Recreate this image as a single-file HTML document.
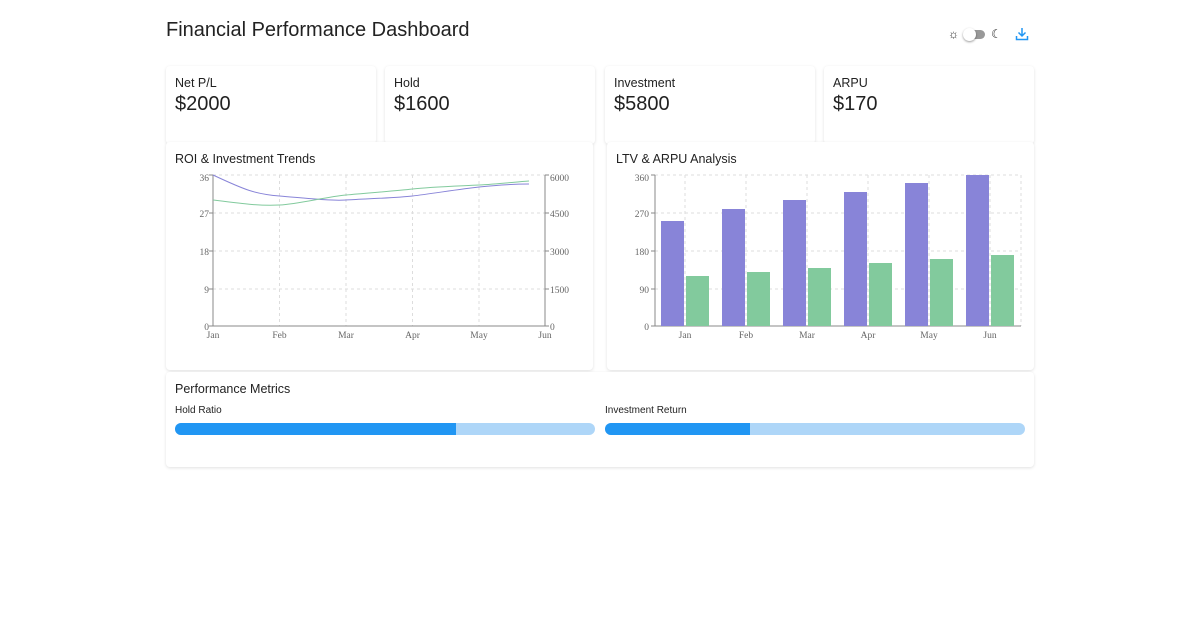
<!DOCTYPE html>
<html><head><style>
body{margin:0;width:1200px;height:630px;background:#fff;font-family:"Liberation Sans",sans-serif;position:relative;overflow:hidden;color:#222}
.card{position:absolute;background:#fff;border-radius:4px;box-shadow:0 1px 3px rgba(0,0,0,0.12)}
.lbl{position:absolute;font-size:12.5px;color:#222}
.val{position:absolute;font-size:20px;color:#222}
svg text{font-family:"Liberation Serif",serif;font-size:9.5px;fill:#666}
</style></head><body>
<div style="position:absolute;left:166px;top:19px;font-size:20px">Financial Performance Dashboard</div>
<div style="position:absolute;left:948px;top:27px;font-size:12px">☼</div>
<div style="position:absolute;left:965px;top:30px;width:20px;height:9px;border-radius:5px;background:#999"></div>
<div style="position:absolute;left:963px;top:28px;width:13px;height:13px;border-radius:50%;background:#fff;box-shadow:0 1px 2px rgba(0,0,0,.4)"></div>
<div style="position:absolute;left:991px;top:27px;font-size:12px">☾</div>
<svg style="position:absolute;left:1015px;top:27px" width="14" height="14"><path d="M7 1v8M3.5 5.5L7 9l3.5-3.5M1.5 9v3.5h11V9" stroke="#2196f3" stroke-width="1.5" fill="none"/></svg>

<div class="card" style="left:166px;top:66px;width:210px;height:78px"><div class="lbl" style="left:9px;top:10px">Net P/L</div><div class="val" style="left:9px;top:27px">$2000</div></div>
<div class="card" style="left:385px;top:66px;width:210px;height:78px"><div class="lbl" style="left:9px;top:10px">Hold</div><div class="val" style="left:9px;top:27px">$1600</div></div>
<div class="card" style="left:605px;top:66px;width:210px;height:78px"><div class="lbl" style="left:9px;top:10px">Investment</div><div class="val" style="left:9px;top:27px">$5800</div></div>
<div class="card" style="left:824px;top:66px;width:210px;height:78px"><div class="lbl" style="left:9px;top:10px">ARPU</div><div class="val" style="left:9px;top:27px">$170</div></div>

<div class="card" style="left:166px;top:142px;width:427px;height:228px"><div class="lbl" style="left:9px;top:10px">ROI &amp; Investment Trends</div></div>
<div class="card" style="left:607px;top:142px;width:427px;height:228px"><div class="lbl" style="left:9px;top:10px">LTV &amp; ARPU Analysis</div></div>

<svg style="position:absolute;left:0;top:0" width="1200" height="630">
<g stroke="#ddd" stroke-dasharray="3,3" stroke-width="1">
<line x1="213" x2="545" y1="175" y2="175"/><line x1="213" x2="545" y1="213" y2="213"/><line x1="213" x2="545" y1="251" y2="251"/><line x1="213" x2="545" y1="289" y2="289"/>
<line x1="279.5" x2="279.5" y1="175" y2="326"/><line x1="346" x2="346" y1="175" y2="326"/><line x1="412.5" x2="412.5" y1="175" y2="326"/><line x1="479" x2="479" y1="175" y2="326"/>
<line x1="655" x2="1021" y1="175" y2="175"/><line x1="655" x2="1021" y1="213" y2="213"/><line x1="655" x2="1021" y1="251" y2="251"/><line x1="655" x2="1021" y1="289" y2="289"/>
<line x1="685" x2="685" y1="175" y2="326"/><line x1="746" x2="746" y1="175" y2="326"/><line x1="807" x2="807" y1="175" y2="326"/><line x1="868" x2="868" y1="175" y2="326"/><line x1="929" x2="929" y1="175" y2="326"/><line x1="990" x2="990" y1="175" y2="326"/><line x1="1021" x2="1021" y1="175" y2="326"/>
</g>
<g stroke="#888" fill="none">
<path d="M213 175V326H545V175"/>
<path d="M209 175h4M209 213h4M209 251h4M209 289h4M209 326h4M545 175h4M545 213h4M545 251h4M545 289h4M545 326h4"/>
<path d="M655 175V326H1021M651 175h4M651 213h4M651 251h4M651 289h4M651 326h4"/>
</g>
<g text-anchor="end"><text x="209" y="181">36</text><text x="209" y="217">27</text><text x="209" y="255">18</text><text x="209" y="293">9</text><text x="209" y="330">0</text>
<text x="649" y="181">360</text><text x="649" y="217">270</text><text x="649" y="255">180</text><text x="649" y="293">90</text><text x="649" y="330">0</text></g>
<g><text x="550" y="181">6000</text><text x="550" y="217">4500</text><text x="550" y="255">3000</text><text x="550" y="293">1500</text><text x="550" y="330">0</text></g>
<g text-anchor="middle"><text x="213" y="338">Jan</text><text x="279.5" y="338">Feb</text><text x="346" y="338">Mar</text><text x="412.5" y="338">Apr</text><text x="479" y="338">May</text><text x="545" y="338">Jun</text>
<text x="685" y="338">Jan</text><text x="746" y="338">Feb</text><text x="807" y="338">Mar</text><text x="868" y="338">Apr</text><text x="929" y="338">May</text><text x="990" y="338">Jun</text></g>
<path d="M213 175C245 190 255 194 279.5 196S330 201 346 200S395 198 412.5 196S460 189 479 187S515 184 529 184" stroke="#8884d8" fill="none"/>
<path d="M213 200C245 204 260 206 279.5 205S325 197 346 195S395 191 412.5 189S460 186 479 185S515 182 529 181" stroke="#82ca9d" fill="none"/>
<g fill="#8884d8"><rect x="661" y="221" width="23" height="105"/><rect x="722" y="209" width="23" height="117"/><rect x="783" y="200" width="23" height="126"/><rect x="844" y="192" width="23" height="134"/><rect x="905" y="183" width="23" height="143"/><rect x="966" y="175" width="23" height="151"/></g>
<g fill="#82ca9d"><rect x="686" y="276" width="23" height="50"/><rect x="747" y="272" width="23" height="54"/><rect x="808" y="268" width="23" height="58"/><rect x="869" y="263" width="23" height="63"/><rect x="930" y="259" width="23" height="67"/><rect x="991" y="255" width="23" height="71"/></g>
</svg>

<div class="card" style="left:166px;top:372px;width:868px;height:95px">
<div class="lbl" style="left:9px;top:10px">Performance Metrics</div>
<div style="position:absolute;left:9px;top:33px;font-size:10px">Hold Ratio</div>
<div style="position:absolute;left:9px;top:51px;width:420px;height:12px;border-radius:6px;background:#aed6f8;overflow:hidden"><div style="width:281px;height:12px;background:#2196f3"></div></div>
<div style="position:absolute;left:439px;top:33px;font-size:10px">Investment Return</div>
<div style="position:absolute;left:439px;top:51px;width:420px;height:12px;border-radius:6px;background:#aed6f8;overflow:hidden"><div style="width:145px;height:12px;background:#2196f3"></div></div>
</div>
</body></html>
